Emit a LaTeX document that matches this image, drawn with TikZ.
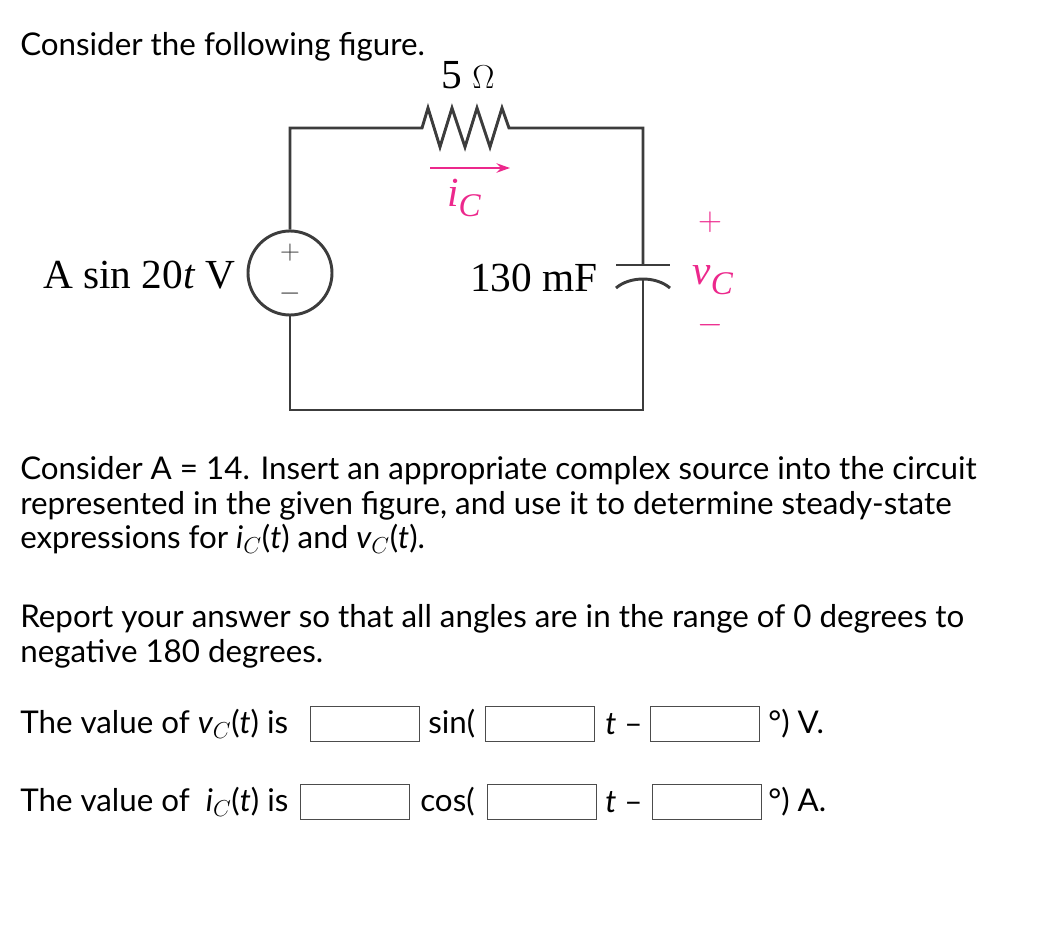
\documentclass[tikz,border=0pt]{standalone}
\usepackage{fontspec}
\setmainfont{Lato}
\newfontfamily\ser{Liberation Serif}
\usetikzlibrary{arrows.meta}
\definecolor{pk}{RGB}{236,40,140}
\definecolor{wr}{RGB}{60,60,60}
\newcommand{\subc}[1]{\raisebox{-0.25em}{\scalebox{0.8}{#1}}}
\begin{document}
\begin{tikzpicture}[x=0.75pt,y=-0.75pt,
  wire/.style={draw=wr,line width=2.2pt},
  txt/.style={anchor=west,inner sep=0,font=\fontsize{23.5}{26}\selectfont},
  ct/.style={inner sep=0,font=\ser\fontsize{31}{32}\selectfont},
  abox/.style={draw=black!70,line width=0.8pt,minimum width=82pt,minimum height=26pt,inner sep=0,anchor=west}]
\useasboundingbox (0,0) rectangle (1051,931);
% circuit
\coordinate (tl) at (290,128); \coordinate (tr) at (643,128);
\coordinate (bl) at (290,410); \coordinate (br) at (643,410);
\coordinate (r1) at (422,128); \coordinate (r2) at (515,128);
\coordinate (c1) at (643,265); \coordinate (c2) at (643,280);
\node[circle,draw=wr,line width=2.2pt,minimum size=84pt*0.75,inner sep=0] (src) at (290,273) {};
\draw[wire,line join=miter] (src.north) -- (tl) -- (r1) -- (428,108) -- (440,147) -- (452,108) -- (465,147) -- (477,108) -- (490,147) -- (502,108) -- (509,128) -- (r2) -- (tr) -- (c1);
\draw[wire] (src.south) -- (bl) -- (br) -- (c2);
\draw[wire] (616,265) -- (670,265);
\draw[wire] (616,288) .. controls (630,276) and (656,276) .. (670,288);
\node[inner sep=0,font=\fontsize{20}{20}\selectfont,text=wr] (pl) at (290,253) {$+$};
\node[inner sep=0,font=\fontsize{20}{20}\selectfont,text=wr] (mi) at (290,294) {$-$};
\node[ct,anchor=east] (srcl) at (236,275) {A sin 20\textit{t} V};
\node[ct] (rl) at (468,75) {5 $\Omega$};
\node[ct,anchor=east] (cl) at (598,278) {130 mF};
\coordinate (a1) at (430,168); \coordinate (a2) at (510,168);
\draw[pk,line width=1.6pt,-{Stealth[length=10pt,width=7pt]}] (a1) -- (a2);
\node[ct,text=pk] (icl) at (464,198) {\textit{i}\subc{\textit{C}}};
\node[ct,text=pk,font=\fontsize{30}{30}\selectfont] (vp) at (710,222) {$+$};
\node[ct,text=pk] (vcl) at (713,280) {\textit{v}\subc{\textit{C}}};
\node[ct,text=pk,font=\fontsize{30}{30}\selectfont] (vm) at (710,325) {$-$};
% text
\node[txt] (t1) at (20,47) {Consider the following figure.};
\node[txt,align=left,anchor=north west] (t2) at (20,456) {Consider A = 14. Insert an appropriate complex source into the circuit\\represented in the given figure, and use it to determine steady-state\\expressions for \textit{i$_C$}(\textit{t}) and \textit{v$_C$}(\textit{t}).};
\node[txt,align=left,anchor=north west] (t3) at (20,604) {Report your answer so that all angles are in the range of 0 degrees to\\negative 180 degrees.};
\node[txt] (q1) at (20,724) {The value of \textit{v$_C$}(\textit{t}) is};
\node[abox] (b11) at (310,724) {};
\node[txt] (s1) at (428,724) {sin(};
\node[abox] (b12) at (485,724) {};
\node[txt] (m1) at (605,724) {\textit{t} \textendash};
\node[abox] (b13) at (650,724) {};
\node[txt] (u1) at (768,724) {°) V.};
\node[txt] (q2) at (20,802) {The value of \ \textit{i$_C$}(\textit{t}) is};
\node[abox] (b21) at (300,802) {};
\node[txt] (s2) at (420,802) {cos(};
\node[abox] (b22) at (487,802) {};
\node[txt] (m2) at (605,802) {\textit{t} \textendash};
\node[abox] (b23) at (652,802) {};
\node[txt] (u2) at (768,802) {°) A.};
\end{tikzpicture}
\end{document}
